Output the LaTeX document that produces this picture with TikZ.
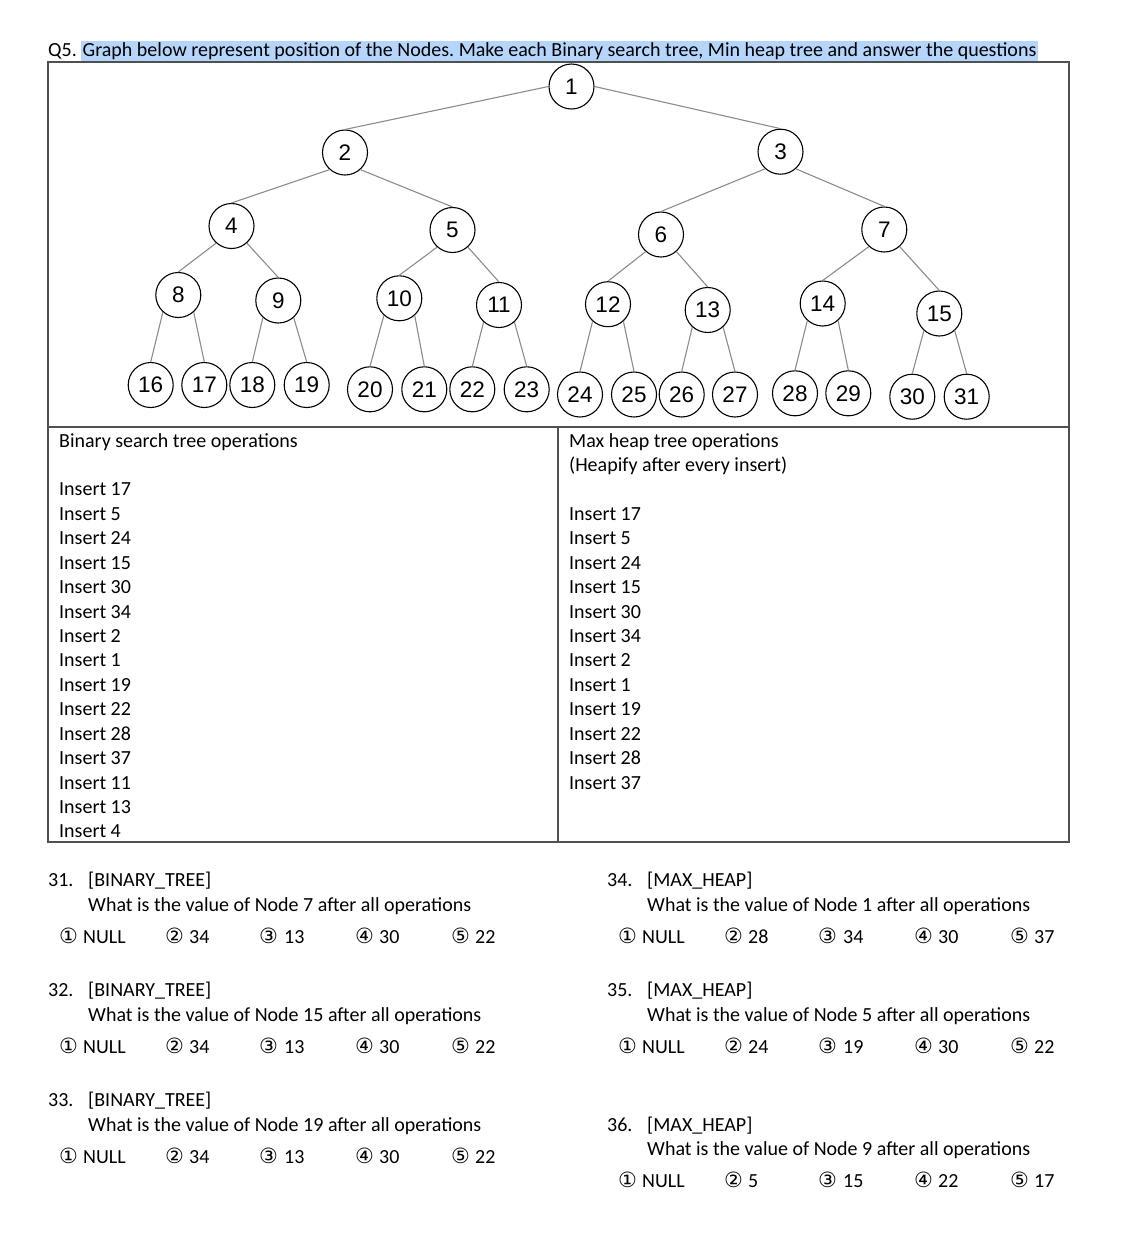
\documentclass[tikz,border=0pt]{standalone}
\usepackage{fontspec}
\setmainfont{Carlito}
\newfontfamily\arialf{Liberation Sans}
\newfontfamily\symf{DejaVu Sans}
\definecolor{hlblue}{HTML}{B5D5FC}
\definecolor{edgegray}{HTML}{8C8C8C}
\definecolor{tblgray}{HTML}{505050}
\frenchspacing
\begin{document}
\begin{tikzpicture}[x=1pt,y=-1pt,
  tn/.style={circle, draw=black, line width=1.1pt, fill=white, minimum size=45pt, inner sep=0pt,
             font=\arialf\fontsize{22.5}{22.5}\selectfont},
  edge/.style={draw=edgegray, line width=1.1pt},
  tbl/.style={draw=tblgray, line width=1.3pt},
  txt/.style={anchor=base west, inner sep=0pt, font=\fontsize{20}{24}\selectfont},
  cnum/.style={anchor=base west, inner sep=0pt, font=\symf\fontsize{21}{24}\selectfont},
  hl/.style={anchor=base west, fill=hlblue, inner xsep=1.5pt, inner ysep=0pt, text height=15pt, text depth=5.5pt,
             font=\fontsize{20}{24}\selectfont}]
\useasboundingbox[fill=white] (0,0) rectangle (1134,1254);

% title
\node[txt] (q5) at (48,56) {Q5.};
\node[hl] (title) at (81,56) {Graph below represent position of the Nodes. Make each Binary search tree, Min heap tree and answer the questions};

% table
\draw[tbl] (48,62) rectangle (1069,842);
\draw[tbl] (48,427) -- (1069,427);
\draw[tbl] (558,427) -- (558,842);

% tree nodes
\foreach \n/\x/\y in {1/571.5/86.5, 2/345/152.5, 3/780.5/151.7,
  4/231.5/226, 5/452.5/230, 6/661/234.5, 7/884.3/229.5,
  8/178.3/295, 9/278.3/300.5, 10/399.3/298.3, 11/499/305,
  12/608/304.2, 13/707.7/310, 14/822.7/303.5, 15/939.3/313.5,
  16/150.7/385, 17/204.3/385, 18/252.3/385, 19/306.7/385,
  20/370/389.3, 21/424.3/389.3, 22/472.3/389.3, 23/526.7/389.3,
  24/580/394.5, 25/634/394.5, 26/681.7/394.5, 27/735/394.5,
  28/795/393.3, 29/848.3/393.3, 30/912.3/396.7, 31/966.7/396.7}
  \node[tn] (n\n) at (\x,\y) {\n};

% edges
\draw[edge] (n1.west) -- (n2.north);
\draw[edge] (n1.east) -- (n3.north);
\foreach \p/\l/\r in {2/4/5, 3/6/7, 4/8/9, 5/10/11, 6/12/13, 7/14/15,
  8/16/17, 9/18/19, 10/20/21, 11/22/23, 12/24/25, 13/26/27, 14/28/29, 15/30/31}{
  \draw[edge] (n\p.-132) -- (n\l.north);
  \draw[edge] (n\p.-48) -- (n\r.north);
}

% left column
\node[txt] (bsth) at (59,447) {Binary search tree operations};
\foreach \k/\v in {2/17, 3/5, 4/24, 5/15, 6/30, 7/34, 8/2, 9/1, 10/19, 11/22, 12/28, 13/37, 14/11, 15/13, 16/4}
  \node[txt] (bst\k) at (59,447+24.43*\k) {Insert \v};

% right column
\node[txt] (mhh) at (569,447) {Max heap tree operations};
\node[txt] (mhh2) at (569,471.43) {(Heapify after every insert)};
\foreach \k/\v in {3/17, 4/5, 5/24, 6/15, 7/30, 8/34, 9/2, 10/1, 11/19, 12/22, 13/28, 14/37}
  \node[txt] (mh\k) at (569,447+24.43*\k) {Insert \v};

% questions
\foreach \qn/\tag/\nd/\xa/\ya/\yb/\yc/\oa/\ob/\oc/\od in {
   31/BINARY\_TREE/7/48/886/911/943/34/13/30/22,
   32/BINARY\_TREE/15/48/996/1021/1053/34/13/30/22,
   33/BINARY\_TREE/19/48/1106/1131/1163/34/13/30/22,
   34/MAX\_HEAP/1/607/886/911/943/28/34/30/37,
   35/MAX\_HEAP/5/607/996/1021/1053/24/19/30/22,
   36/MAX\_HEAP/9/607/1131/1155/1187/5/15/22/17}{
  \node[txt] (qnum\qn) at (\xa,\ya) {\qn.};
  \node[txt] (qtag\qn) at (\xa+40,\ya) {[\tag]};
  \node[txt] (qtxt\qn) at (\xa+40,\yb) {What is the value of Node \nd\ after all operations};
  \node[cnum] (qc1\qn) at (\xa+11,\yc) {①};
  \node[txt]  (qo1\qn) at (\xa+35,\yc) {NULL};
  \node[cnum] (qc2\qn) at (\xa+117,\yc) {②};
  \node[txt]  (qo2\qn) at (\xa+141,\yc) {\oa};
  \node[cnum] (qc3\qn) at (\xa+211,\yc) {③};
  \node[txt]  (qo3\qn) at (\xa+236,\yc) {\ob};
  \node[cnum] (qc4\qn) at (\xa+307,\yc) {④};
  \node[txt]  (qo4\qn) at (\xa+331,\yc) {\oc};
  \node[cnum] (qc5\qn) at (\xa+403,\yc) {⑤};
  \node[txt]  (qo5\qn) at (\xa+427,\yc) {\od};
}
\end{tikzpicture}
\end{document}
